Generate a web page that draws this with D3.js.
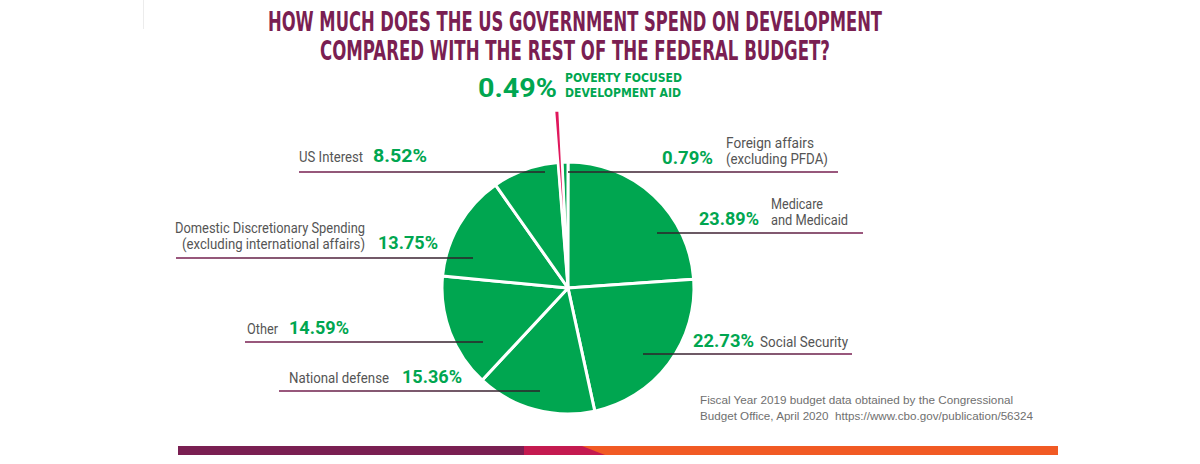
<!DOCTYPE html>
<html>
<head>
<meta charset="utf-8">
<script src="https://cdn.jsdelivr.net/npm/d3@7"></script>
<style>
  body { margin: 0; background: #fff; }
  svg { display: block; }
  text { white-space: pre; }
  .cond { font-family: "DejaVu Sans Condensed", "Liberation Sans Narrow", Roboto, sans-serif; font-stretch: condensed; }
  .din { font-family: Roboto, "DejaVu Sans", sans-serif; }
</style>
</head>
<body>
<div id="chart"></div>
<script>
// budget shares, clockwise from the top of the pie
const categories = ["Poverty focused development aid", "Foreign affairs", "Medicare and Medicaid", "Social Security",
    "National defense", "Other", "Domestic Discretionary Spending", "US Interest"];
const values = [0.49, 0.79, 23.89, 22.73, 15.36, 14.59, 13.75, 8.52];
const valueLabels = ["0.49%", "0.79%", "23.89%", "22.73%", "15.36%", "14.59%", "13.75%", "8.52%"];
const nameLines = [
    ["POVERTY FOCUSED", "DEVELOPMENT AID"],
    ["Foreign affairs", "(excluding PFDA)"],
    ["Medicare", "and Medicaid"],
    ["Social Security"],
    ["National defense"],
    ["Other"],
    ["Domestic Discretionary Spending", "(excluding international affairs)"],
    ["US Interest"]
];
const titleLines = ["HOW MUCH DOES THE US GOVERNMENT SPEND ON DEVELOPMENT", "COMPARED WITH THE REST OF THE FEDERAL BUDGET?"];
const noteLines = ["Fiscal Year 2019 budget data obtained by the Congressional", "Budget Office, April 2020  https://www.cbo.gov/publication/56324"];

const width = 1200;
const height = 464;
const cx = 568, cy = 288, radius = 126;
const green = "#00a650";
const plum = "#7a1f52";

// where each annotation sits (value box, name lines, leader line)
const layout = [
    { v: [478, 97, 79], names: [[565, 82, 117], [565, 97, 116]], line: null },
    { v: [662, 164, 51], names: [[726, 148, 88], [726, 164, 102]], line: [838, 568, 172] },
    { v: [699, 225, 60], names: [[771, 209, 52], [771, 225, 77]], line: [863, 657, 233] },
    { v: [693, 347, 61], names: [[760, 347, 88]], line: [852, 643, 354] },
    { v: [402, 383, 60], names: [[289, 383, 100]], line: [279, 540, 391] },
    { v: [289, 334, 60], names: [[247, 334, 31]], line: [245, 483, 342] },
    { v: [378, 249, 60], names: [[175, 233, 190], [182, 249, 183]], line: [176, 473, 258] },
    { v: [373, 162, 54], names: [[299, 162, 64]], line: [299, 545, 172] }
];

const svg = d3.select("#chart")
    .append("svg")
    .attr("width", width)
    .attr("height", height);

const defs = svg.append("defs");

// faint rule at the top left
svg.append("line")
    .attr("x1", 143.5).attr("x2", 143.5).attr("y1", 0).attr("y2", 29)
    .attr("stroke", "#ececec").attr("stroke-width", 1);

// title
svg.selectAll(".title")
    .data(titleLines)
    .enter().append("text")
    .attr("class", "title cond")
    .attr("x", 575)
    .attr("y", (d, i) => 31 + i * 29)
    .attr("text-anchor", "middle")
    .attr("font-size", 26)
    .attr("font-weight", "bold")
    .attr("fill", plum)
    .attr("textLength", (d, i) => i === 0 ? 614 : 510)
    .attr("lengthAdjust", "spacingAndGlyphs")
    .text(d => d);

// leader lines under the pie
const leaders = svg.append("g");
layout.forEach((l, i) => {
    if (!l.line) return;
    const grad = defs.append("linearGradient")
        .attr("id", "lead" + i)
        .attr("gradientUnits", "userSpaceOnUse")
        .attr("x1", l.line[0]).attr("x2", l.line[1])
        .attr("y1", 0).attr("y2", 0);
    grad.append("stop").attr("offset", "0%").attr("stop-color", plum);
    grad.append("stop").attr("offset", "100%").attr("stop-color", "#2a2328");
    leaders.append("line")
        .attr("x1", l.line[0]).attr("x2", l.line[1])
        .attr("y1", l.line[2]).attr("y2", l.line[2])
        .attr("stroke", `url(#lead${i})`)
        .attr("stroke-width", 1.6);
});

// pie
const pie = d3.pie()
    .sort(null)
    .value(d => d)
    .startAngle(-4.5 * Math.PI / 180)
    .endAngle(2 * Math.PI - 4.5 * Math.PI / 180);

const arc = d3.arc().innerRadius(0).outerRadius((d) => d.index === 0 ? 178 : radius);

const pieG = svg.append("g").attr("transform", `translate(${cx},${cy})`);
const arcs = pie(values);

pieG.selectAll(".slice")
    .data(arcs.filter(d => d.index !== 0))
    .enter().append("path")
    .attr("class", "slice")
    .attr("d", arc)
    .attr("fill", green)
    .attr("stroke", "#fff")
    .attr("stroke-width", 3)
    .attr("stroke-linejoin", "round");

pieG.append("path")
    .datum(arcs[0])
    .attr("d", arc)
    .attr("fill", "#e0175c")
    .attr("stroke", "#fff")
    .attr("stroke-width", 2.4);

// leader lines cross over the slices
leaders.raise();

// value labels
svg.selectAll(".value")
    .data(valueLabels)
    .enter().append("text")
    .attr("class", "value din")
    .attr("x", (d, i) => layout[i].v[0])
    .attr("y", (d, i) => layout[i].v[1])
    .attr("font-size", (d, i) => i === 0 ? 25 : 19)
    .attr("font-weight", "bold")
    .attr("fill", green)
    .attr("textLength", (d, i) => layout[i].v[2])
    .attr("lengthAdjust", "spacingAndGlyphs")
    .text(d => d);

// category names
nameLines.forEach((lines, i) => {
    lines.forEach((t, j) => {
        const p = layout[i].names[j];
        svg.append("text")
            .attr("class", i === 0 ? "cond" : "din")
            .attr("x", p[0])
            .attr("y", p[1])
            .attr("font-size", i === 0 ? 12.5 : 14)
            .attr("font-weight", i === 0 ? "bold" : "normal")
            .attr("fill", i === 0 ? green : "#555")
            .attr("textLength", p[2])
            .attr("lengthAdjust", "spacingAndGlyphs")
            .text(t);
    });
});

// source note
svg.selectAll(".note")
    .data(noteLines)
    .enter().append("text")
    .attr("class", "note")
    .attr("x", 700)
    .attr("y", (d, i) => 404 + i * 15.5)
    .attr("font-family", "'Liberation Sans', Arial, sans-serif")
    .attr("font-size", 11.5)
    .attr("fill", "#6f6f6f")
    .attr("textLength", (d, i) => i === 0 ? 313 : 333)
    .attr("lengthAdjust", "spacingAndGlyphs")
    .text(d => d);

// colour band at the bottom
svg.append("rect").attr("x", 178).attr("y", 446).attr("width", 880).attr("height", 9).attr("fill", "#f15a24");
svg.append("polygon").attr("points", "524,446 582,446 605,455 523,455").attr("fill", "#c41a50");
svg.append("rect").attr("x", 178).attr("y", 446).attr("width", 346).attr("height", 9).attr("fill", plum);
</script>
</body>
</html>
